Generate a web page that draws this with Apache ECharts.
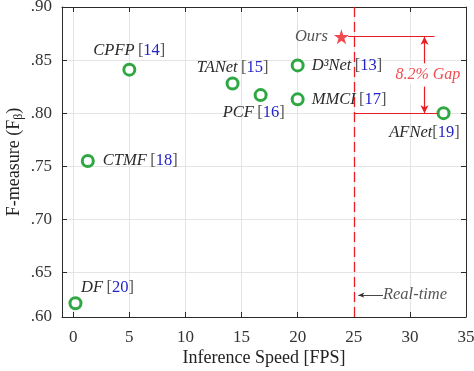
<!DOCTYPE html>
<html><head><meta charset="utf-8">
<script src="https://cdn.jsdelivr.net/npm/echarts@6/dist/echarts.min.js"></script>
<style>html,body{margin:0;padding:0;background:#fff}#c{width:474px;height:371px}</style>
</head><body><div id="c"></div>
<script>
// ---- data ----
const methods = ['CPFP', 'CTMF', 'TANet', 'PCF', 'D³Net', 'MMCI', 'AFNet', 'DF'];
const refs = ['14', '18', '15', '16', '13', '17', '19', '20'];
const fps = [5.0, 1.3, 14.2, 16.7, 20.0, 20.0, 33.0, 0.2];
const fmeasure = [0.841, 0.755, 0.828, 0.817, 0.845, 0.813, 0.800, 0.621];
const oursName = 'Ours';
const oursFps = 23.9;
const oursF = 0.872;
const realTimeFps = 25;
const realTimeText = 'Real-time';
const gapText = '8.2% Gap';
const xTicks = [0, 5, 10, 15, 20, 25, 30, 35];
const yTicks = [0.608, 0.65, 0.70, 0.75, 0.80, 0.85, 0.90];
const yTickLabels = ['.60', '.65', '.70', '.75', '.80', '.85', '.90'];
const xRange = [-1, 35];
const yRange = [0.608, 0.90];

// ---- styles ----
const SERIF = '"Liberation Serif", "DejaVu Serif", serif';
const RED = '#ec1c24';
const GREEN = '#2fa844';
const AXIS = '#2b2b2b';
const LBL = 16.5;

const labelLayout = [
  {position: 'top', distance: 3, offset: [0, 0], space: true},
  {position: 'right', distance: 8, offset: [0, 0], space: true},
  {position: 'top', distance: 0, offset: [0, 0], space: true},
  {position: 'bottom', distance: 2, offset: [-7, 0], space: true},
  {position: 'right', distance: 7, offset: [0, 0], space: true},
  {position: 'right', distance: 7, offset: [0, 0], space: true},
  {position: 'bottom', distance: 4, offset: [-19, 0], space: false},
  {position: 'top', distance: 0, offset: [32, 0], space: true}
];

const richStyles = {
  n: {fontFamily: SERIF, fontStyle: 'italic', fontSize: LBL, color: '#2a2a2a'},
  b: {fontFamily: SERIF, fontSize: LBL, color: '#555'},
  r: {fontFamily: SERIF, fontSize: LBL, color: '#2323c8'}
};

const methodData = methods.map((m, i) => ({
  value: [fps[i], fmeasure[i]],
  label: {
    show: true,
    position: labelLayout[i].position,
    distance: labelLayout[i].distance,
    offset: labelLayout[i].offset,
    formatter: '{n|' + m + '}' + (labelLayout[i].space ? ' ' : '') + '{b|[}{r|' + refs[i] + '}{b|]}',
    rich: richStyles
  }
}));

const hidden = {show: false};
const chart = echarts.init(document.getElementById('c'), null, {renderer: 'canvas'});

const xBase = {
  type: 'value', min: xRange[0], max: xRange[1],
  axisLine: {show: true, onZero: false, lineStyle: {color: AXIS, width: 1}},
  axisTick: {show: true, inside: true, length: 5, customValues: xTicks, lineStyle: {color: AXIS}}
};
const yBase = {
  type: 'value', min: yRange[0], max: yRange[1],
  axisLine: {show: true, onZero: false, lineStyle: {color: AXIS, width: 1}},
  axisTick: {show: true, inside: true, length: 5, customValues: yTicks.slice(1, -1), lineStyle: {color: AXIS}}
};

chart.setOption({
  animation: false,
  backgroundColor: '#fff',
  grid: {left: 62, right: 8, top: 7, bottom: 54, containLabel: false, outerBoundsMode: 'none'},
  xAxis: [
    Object.assign({}, xBase, {
      position: 'bottom',
      name: 'Inference Speed [FPS]', nameLocation: 'middle', nameGap: 32, nameMoveOverlap: false,
      nameTextStyle: {fontFamily: SERIF, fontSize: 18, color: '#222'},
      axisLabel: {customValues: xTicks, margin: 12, fontFamily: SERIF, fontSize: 17, color: '#333'},
      splitLine: {show: true, lineStyle: {color: '#e4e4e4', width: 1}}
    }),
    Object.assign({}, xBase, {position: 'top', axisLabel: hidden, splitLine: hidden})
  ],
  yAxis: [
    Object.assign({}, yBase, {
      position: 'left',
      name: 'F-measure (F{s|β})', nameLocation: 'middle', nameGap: 37, nameMoveOverlap: false,
      nameTextStyle: {fontFamily: SERIF, fontSize: 18, color: '#222',
        rich: {s: {fontFamily: SERIF, fontSize: 12, color: '#222', padding: [9, 0, 0, 0]}}},
      axisLabel: {customValues: yTicks, margin: 10, fontFamily: SERIF, fontSize: 17, color: '#333',
        formatter: v => yTickLabels[yTicks.findIndex(t => Math.abs(t - v) < 1e-6)] || ''},
      splitLine: {show: true, lineStyle: {color: '#e4e4e4', width: 1}}
    }),
    Object.assign({}, yBase, {position: 'right', axisLabel: hidden, splitLine: hidden})
  ],
  series: [
    {
      type: 'scatter', name: 'methods', z: 5,
      symbol: 'circle', symbolSize: 11,
      itemStyle: {color: '#fff', borderColor: GREEN, borderWidth: 3, opacity: 1},
      data: methodData
    },
    {
      type: 'scatter', name: 'ours', z: 6,
      symbol: 'path://M50,0 L61.8,35.5 L99,35.5 L69,57.5 L80.5,93 L50,71 L19.5,93 L31,57.5 L1,35.5 L38.2,35.5 Z',
      symbolSize: 15,
      itemStyle: {color: RED},
      label: {show: true, position: 'left', distance: 6, formatter: oursName,
        fontFamily: SERIF, fontStyle: 'italic', fontSize: LBL, color: '#2a2a2a'},
      data: [[oursFps, oursF]],
      markLine: {
        silent: true, animation: false, symbol: ['none', 'none'], z: 8,
        label: {show: false},
        lineStyle: {color: RED, width: 1.2, type: 'solid'},
        data: [
          [{xAxis: realTimeFps, yAxis: yRange[0], lineStyle: {type: [10, 5], width: 1.3, color: RED}},
           {xAxis: realTimeFps, yAxis: yRange[1]}],
          [{coord: [oursFps + 0.6, oursF]}, {coord: [32.2, oursF]}],
          [{coord: [realTimeFps, fmeasure[6]]}, {coord: [fps[6] - 0.5, fmeasure[6]]}],
          [{coord: [31.3, 0.847], symbol: 'none'}, {coord: [31.3, oursF], symbol: 'arrow', symbolSize: [6, 8]}],
          [{coord: [31.3, 0.825], symbol: 'none'}, {coord: [31.3, fmeasure[6]], symbol: 'arrow', symbolSize: [6, 8]}],
          [{coord: [27.6, 0.6286], symbol: 'none', lineStyle: {color: '#333', width: 0.9}},
           {coord: [25.4, 0.6286], symbol: 'arrow', symbolSize: [4, 6]}]
        ]
      }
    },
    {
      type: 'scatter', name: 'annotations', z: 7, symbolSize: 0,
      data: [
        {value: [31.6, 0.836], label: {show: true, position: 'inside', formatter: gapText,
          fontFamily: SERIF, fontStyle: 'italic', fontSize: 16, color: RED,
          backgroundColor: '#fff', padding: [1, 1]}},
        {value: [27.6, 0.6286], label: {show: true, position: 'right', distance: 0, formatter: realTimeText,
          fontFamily: SERIF, fontStyle: 'italic', fontSize: LBL, color: '#2a2a2a'}}
      ]
    }
  ]
});
</script></body></html>
